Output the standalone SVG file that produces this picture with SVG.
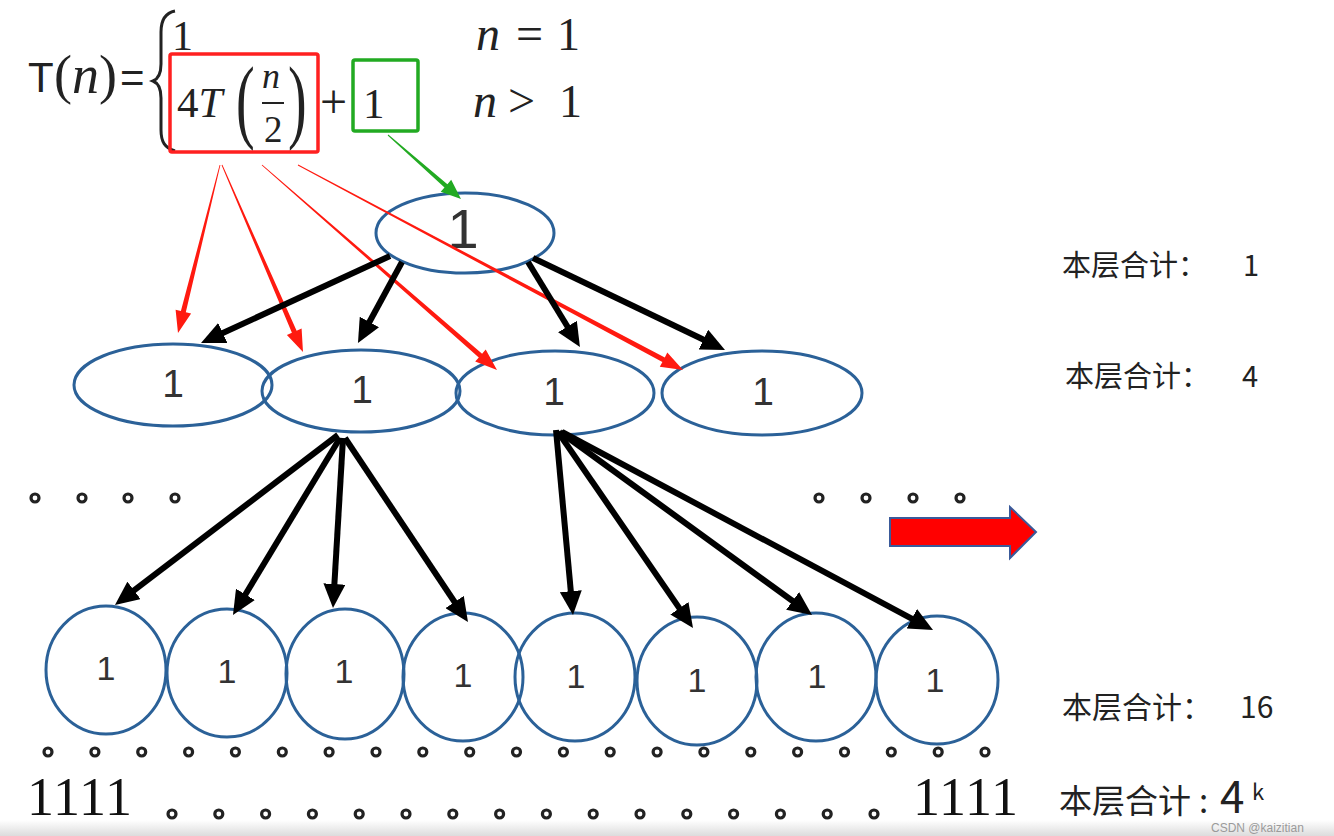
<svg xmlns="http://www.w3.org/2000/svg" width="1334" height="836" viewBox="0 0 1334 836">
<style>
.node{fill:none;stroke:#2b6198;stroke-width:3}
.lbl{font-family:"Liberation Sans","DejaVu Sans",sans-serif;text-anchor:middle;fill:#333}
.blk{stroke:#000;stroke-width:6;fill:none;marker-end:url(#bh)}
.red{fill:#ff1a10}
.grn{fill:#22aa22}
.dot{fill:none;stroke:#222;stroke-width:3.2}
.math{font-family:"Liberation Serif","DejaVu Serif",serif;fill:#222}
.it{font-style:italic}
.cjk{font-family:"Noto Sans CJK SC","Noto Sans",sans-serif;fill:#222}
.big{font-family:"Liberation Serif","DejaVu Serif",serif;fill:#111}
</style>
<defs>
<marker id="bh" markerUnits="userSpaceOnUse" markerWidth="24" markerHeight="22" viewBox="0 0 24 22" refX="12" refY="11" orient="auto">
<path d="M0,0 L24,11 L0,22 z" fill="#000"/>
</marker>
<linearGradient id="band" x1="0" y1="0" x2="0" y2="1">
<stop offset="0" stop-color="#ffffff"/>
<stop offset="1" stop-color="#dcdcdc"/>
</linearGradient>
</defs>
<rect x="0" y="0" width="1334" height="836" fill="#fff"/>
<rect x="0" y="820" width="1334" height="16" fill="url(#band)"/>

<g id="formula">
<text x="28" y="92" font-size="42" style="font-family:'Liberation Sans',sans-serif;fill:#222">T</text>
<text class="math" x="54" y="93" font-size="54">(<tspan class="it">n</tspan>)</text>
<text x="120" y="92" font-size="42" style="font-family:'Liberation Sans',sans-serif;fill:#222">=</text>
<path d="M175,11 C165,13 161,20 161,32 L161,64 C161,75 158,79 153,81 C158,83 161,87 161,98 L161,130 C161,142 165,148 175,151" fill="none" stroke="#222" stroke-width="3"/>
<text class="math" x="172" y="50" font-size="42">1</text>
<text class="math it" x="476" y="50" font-size="48">n</text>
<text class="math" x="516" y="50" font-size="48">=</text>
<text class="math" x="557" y="50" font-size="46">1</text>
<text class="math" x="177" y="117" font-size="43">4<tspan class="it">T</tspan></text>
<text class="math" transform="translate(236,131) scale(1,1.65)" font-size="56">(</text>
<text class="math it" x="262" y="88" font-size="36">n</text>
<rect x="262" y="102" width="22" height="2" fill="#222"/>
<text class="math" x="264" y="142" font-size="37">2</text>
<text class="math" transform="translate(288,131) scale(1,1.65)" font-size="56">)</text>
<text class="math" x="320" y="118" font-size="48">+</text>
<text class="math" x="363" y="118" font-size="43">1</text>
<text class="math it" x="473" y="117" font-size="48">n</text>
<text class="math" x="508" y="117" font-size="48">&gt;</text>
<text class="math" x="559" y="117" font-size="46">1</text>
<rect x="170" y="54" width="148" height="98" rx="2" fill="none" stroke="#ff2020" stroke-width="3.5"/>
<rect x="353" y="60" width="65" height="71" rx="2" fill="none" stroke="#22aa22" stroke-width="3.5"/>
</g>

<g id="root"><ellipse class="node" cx="465" cy="233" rx="89" ry="40"/><text class="lbl" x="463" y="248" font-size="56" fill="#222">1</text></g>

<g id="l2a"><ellipse class="node" cx="173" cy="385" rx="99" ry="41"/><text class="lbl" x="173" y="397" font-size="39">1</text></g>
<g id="l2b"><ellipse class="node" cx="361" cy="391" rx="99" ry="41"/><text class="lbl" x="362" y="403" font-size="39">1</text></g>
<g id="l2c"><ellipse class="node" cx="555" cy="393" rx="99" ry="42"/><text class="lbl" x="554" y="405" font-size="39">1</text></g>
<g id="l2d"><ellipse class="node" cx="762" cy="393" rx="100" ry="42"/><text class="lbl" x="763" y="405" font-size="39">1</text></g>

<g id="l3a"><ellipse class="node" cx="106" cy="670" rx="60" ry="64"/><text class="lbl" x="106" y="680" font-size="34">1</text></g>
<g id="l3b"><ellipse class="node" cx="227" cy="673" rx="60" ry="64"/><text class="lbl" x="227" y="683" font-size="34">1</text></g>
<g id="l3c"><ellipse class="node" cx="345" cy="674" rx="59" ry="65"/><text class="lbl" x="344" y="683" font-size="34">1</text></g>
<g id="l3d"><ellipse class="node" cx="463" cy="677" rx="60" ry="64"/><text class="lbl" x="463" y="687" font-size="34">1</text></g>
<g id="l3e"><ellipse class="node" cx="575" cy="677" rx="60" ry="64"/><text class="lbl" x="576" y="688" font-size="34">1</text></g>
<g id="l3f"><ellipse class="node" cx="697" cy="681" rx="60" ry="64"/><text class="lbl" x="697" y="692" font-size="34">1</text></g>
<g id="l3g"><ellipse class="node" cx="816" cy="677" rx="60" ry="64"/><text class="lbl" x="817" y="688" font-size="34">1</text></g>
<g id="l3h"><ellipse class="node" cx="937" cy="680" rx="61" ry="64"/><text class="lbl" x="935" y="692" font-size="34">1</text></g>

<g id="connectors">
<polygon class="grn" points="387.7,135.4 444.5,187.5 440.7,191.8 461,199 451.2,179.8 447.4,184.2 388.3,134.6"/>
<polygon class="red" points="220.4,165.1 185.8,312.3 191.1,313.6 178,333 175.6,309.7 180.9,311.0 219.6,164.9"/>
<polygon class="red" points="221.6,165.2 291.9,332.8 286.9,335.0 303,352 301.6,328.6 296.6,330.8 222.4,164.8"/>
<polygon class="red" points="261.7,165.3 478.8,357.4 475.2,361.6 497,370 485.7,349.5 482.1,353.7 262.3,164.7"/>
<polygon class="red" points="297.8,165.4 662.4,361.9 659.8,366.7 683,370 667.3,352.6 664.8,357.4 298.2,164.6"/>
<line class="blk" x1="390" y1="256" x2="211.9" y2="338"/>
<line class="blk" x1="402" y1="262" x2="363.7" y2="332.5"/>
<line class="blk" x1="528" y1="262" x2="573.7" y2="336.8"/>
<line class="blk" x1="533" y1="258" x2="714.2" y2="344.8"/>
<line class="blk" x1="338" y1="435" x2="124.5" y2="597.7"/>
<line class="blk" x1="340" y1="438" x2="239.2" y2="604.7"/>
<line class="blk" x1="343" y1="438" x2="333.7" y2="596"/>
<line class="blk" x1="345" y1="438" x2="461.3" y2="612"/>
<line class="blk" x1="556" y1="430" x2="571.9" y2="603.1"/>
<line class="blk" x1="558" y1="432" x2="686.2" y2="618.1"/>
<line class="blk" x1="560" y1="432" x2="802.3" y2="608"/>
<line class="blk" x1="562" y1="432" x2="922.4" y2="624.3"/>
</g>

<g id="dots">
<circle class="dot" cx="35" cy="498" r="4"/><circle class="dot" cx="82" cy="498" r="4"/><circle class="dot" cx="128" cy="498" r="4"/><circle class="dot" cx="175" cy="498" r="4"/>
<circle class="dot" cx="819" cy="498" r="4"/><circle class="dot" cx="866" cy="498" r="4"/><circle class="dot" cx="913" cy="498" r="4"/><circle class="dot" cx="960" cy="498" r="4"/>
<circle class="dot" cx="48" cy="752" r="4"/><circle class="dot" cx="94.9" cy="752" r="4"/><circle class="dot" cx="141.7" cy="752" r="4"/><circle class="dot" cx="188.6" cy="752" r="4"/><circle class="dot" cx="235.4" cy="752" r="4"/><circle class="dot" cx="282.3" cy="752" r="4"/><circle class="dot" cx="329.1" cy="752" r="4"/><circle class="dot" cx="376" cy="752" r="4"/><circle class="dot" cx="422.8" cy="752" r="4"/><circle class="dot" cx="469.7" cy="752" r="4"/><circle class="dot" cx="516.5" cy="752" r="4"/><circle class="dot" cx="563.4" cy="752" r="4"/><circle class="dot" cx="610.2" cy="752" r="4"/><circle class="dot" cx="657.1" cy="752" r="4"/><circle class="dot" cx="703.9" cy="752" r="4"/><circle class="dot" cx="750.8" cy="752" r="4"/><circle class="dot" cx="797.6" cy="752" r="4"/><circle class="dot" cx="844.5" cy="752" r="4"/><circle class="dot" cx="891.3" cy="752" r="4"/><circle class="dot" cx="938.2" cy="752" r="4"/><circle class="dot" cx="985" cy="752" r="4"/>
<circle class="dot" cx="172" cy="814" r="4"/><circle class="dot" cx="218.8" cy="814" r="4"/><circle class="dot" cx="265.6" cy="814" r="4"/><circle class="dot" cx="312.4" cy="814" r="4"/><circle class="dot" cx="359.2" cy="814" r="4"/><circle class="dot" cx="406" cy="814" r="4"/><circle class="dot" cx="452.8" cy="814" r="4"/><circle class="dot" cx="499.6" cy="814" r="4"/><circle class="dot" cx="546.4" cy="814" r="4"/><circle class="dot" cx="593.2" cy="814" r="4"/><circle class="dot" cx="640" cy="814" r="4"/><circle class="dot" cx="686.8" cy="814" r="4"/><circle class="dot" cx="733.6" cy="814" r="4"/><circle class="dot" cx="780.4" cy="814" r="4"/><circle class="dot" cx="827.2" cy="814" r="4"/><circle class="dot" cx="874" cy="814" r="4"/>
</g>

<g id="bigarrow"><polygon points="890,518 1010,518 1010,507 1036,532 1010,558 1010,546 890,546" fill="#ff0000" stroke="#3a5a9a" stroke-width="2"/></g>

<g id="bottom">
<text class="big" x="27" y="815" font-size="54" letter-spacing="1">1111</text>
<text class="big" x="913" y="815" font-size="54" letter-spacing="1">1111</text>
</g>

<g id="sums">
<text class="cjk" x="1062" y="276" font-size="29">本层合计：<tspan x="1243">1</tspan></text>
<text class="cjk" x="1065" y="387" font-size="29">本层合计：<tspan x="1242">4</tspan></text>
<text class="cjk" x="1062" y="718" font-size="30">本层合计：<tspan x="1240">16</tspan></text>
<text class="cjk" x="1059" y="813" font-size="33">本层合计<tspan x="1199">:</tspan><tspan x="1220" font-size="44">4</tspan><tspan x="1252" y="800" font-size="22">k</tspan></text>
</g>
<text x="1211" y="832" font-family="Liberation Sans,sans-serif" font-size="12" fill="#9a9a9a">CSDN @kaizitian</text>
</svg>
